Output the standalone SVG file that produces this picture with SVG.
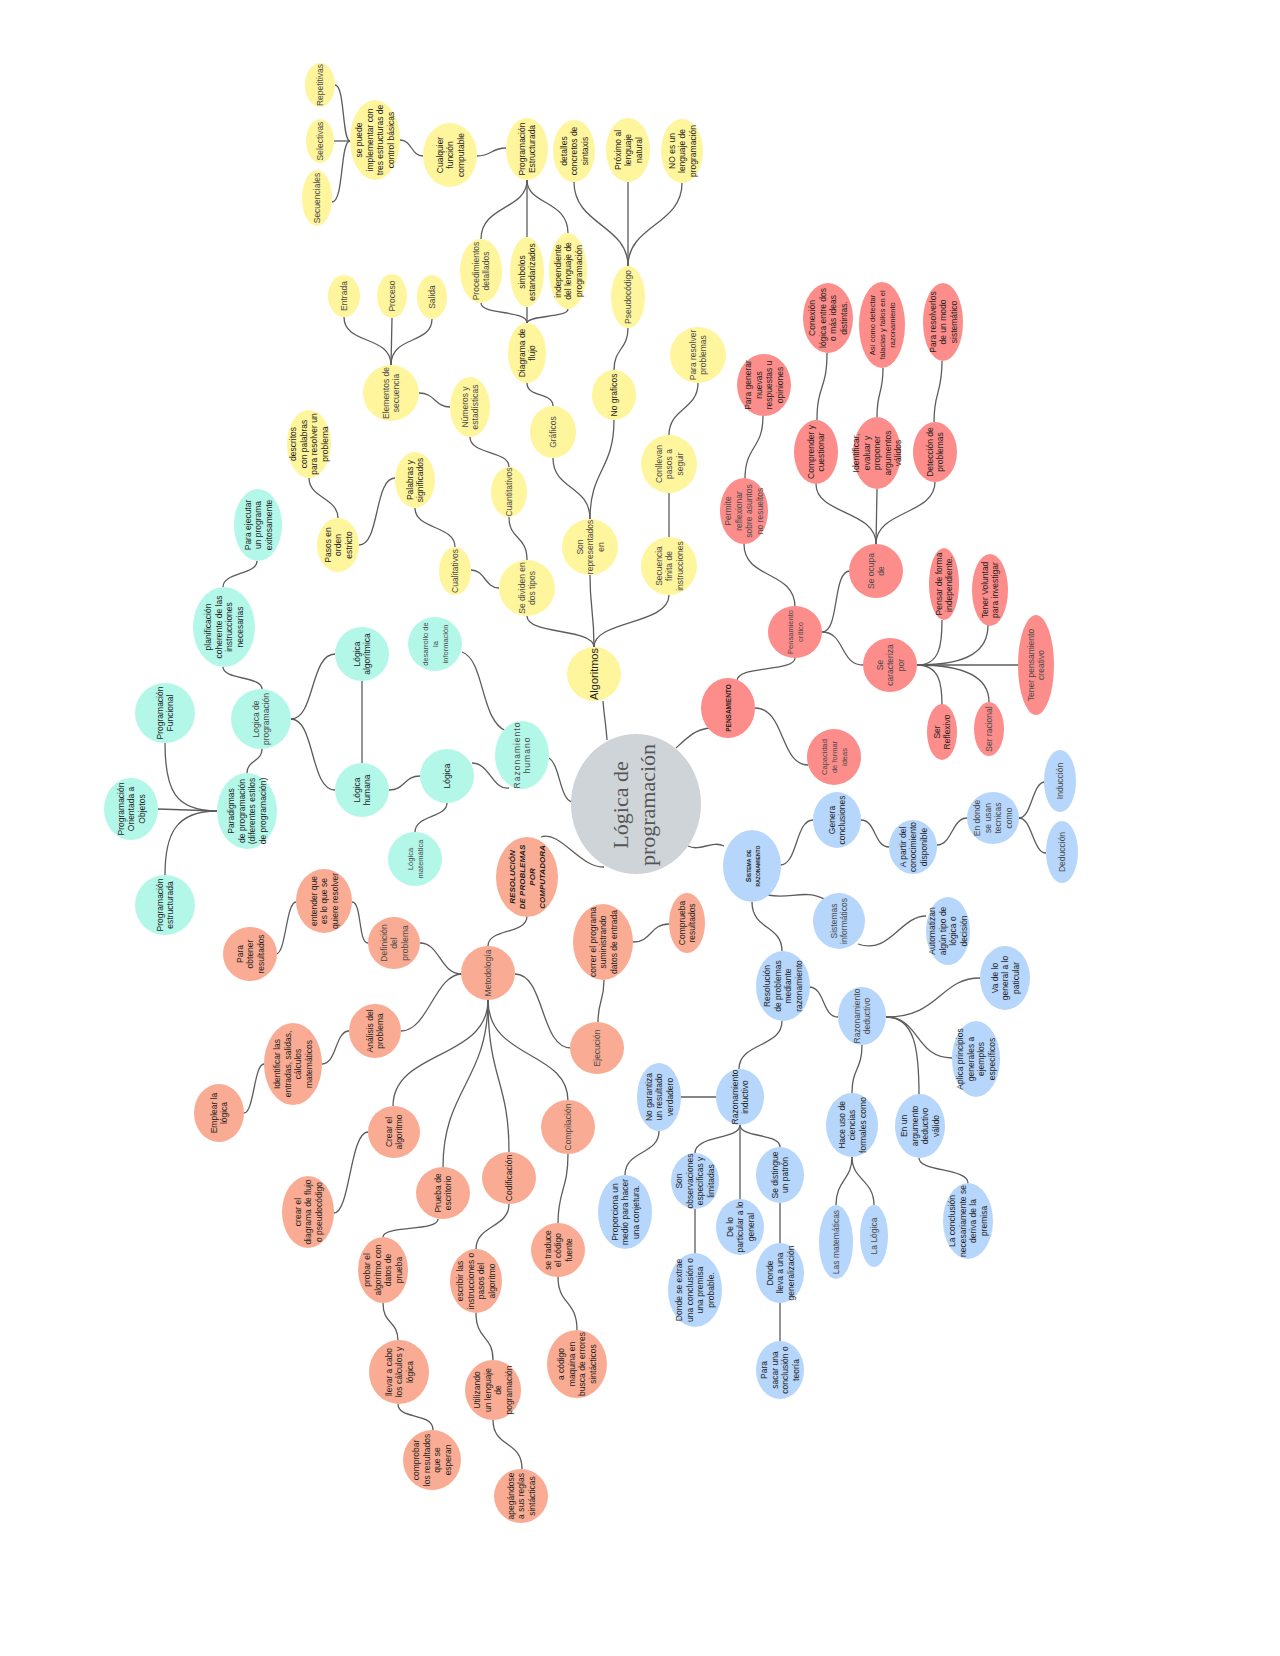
<svg xmlns="http://www.w3.org/2000/svg" width="1280" height="1656" viewBox="0 0 1280 1656">
<style>
.y{fill:#fff59d}.t{fill:#b3f7e9}.r{fill:#fc8d8a}.s{fill:#f9ac93}.b{fill:#b7d6fb}.m{fill:#cfd4d9}
text{font-family:"Liberation Sans",Arial,sans-serif;font-size:8.5px;fill:#1e1e1e;text-anchor:middle}
text.g{fill:#4a4a4a}
text.sm{font-size:7.5px}
#connectors path{fill:none;stroke:#5c5c5c;stroke-width:1.3}
</style>
<rect width="1280" height="1656" fill="#ffffff"/>
<g id="connectors">
<path d="M335,85 C345,85 342,141 350,141"/>
<path d="M334,141 L350,141"/>
<path d="M332,202 C344,202 340,141 350,141"/>
<path d="M400,140 C412,140 411,156 423,156"/>
<path d="M477,156 C492,156 491,148 506,148"/>
<path d="M527,180 C527,210 481,205 481,239"/>
<path d="M527,180 L527,237"/>
<path d="M527,180 C527,205 568,200 568,233"/>
<path d="M574,182 C574,225 628,225 628,266"/>
<path d="M628,182 L628,266"/>
<path d="M682,183 C682,225 628,225 628,266"/>
<path d="M481,303 C481,315 527,310 527,323"/>
<path d="M527,307 L527,323"/>
<path d="M568,309 C568,318 527,315 527,323"/>
<path d="M628,328 C628,350 614,348 614,370"/>
<path d="M527,383 C527,398 553,392 553,406"/>
<path d="M698,383 C698,410 669,408 669,435"/>
<path d="M344,317 C344,345 391,335 391,365"/>
<path d="M392,318 L391,365"/>
<path d="M432,319 C432,345 391,335 391,365"/>
<path d="M419,393 C435,393 435,407 450,407"/>
<path d="M470,437 C470,455 509,450 509,467"/>
<path d="M309,478 C309,498 338,498 338,518"/>
<path d="M359,545 C380,545 374,478 395,478"/>
<path d="M415,508 C415,530 455,525 455,547"/>
<path d="M471,570 C485,570 485,588 499,588"/>
<path d="M509,517 C509,540 527,535 527,560"/>
<path d="M553,458 C553,490 590,485 590,519"/>
<path d="M614,420 C614,470 590,470 590,519"/>
<path d="M669,493 L669,537"/>
<path d="M527,616 C527,635 594,628 594,647"/>
<path d="M590,575 C590,610 594,610 594,647"/>
<path d="M669,595 C669,625 594,620 594,647"/>
<path d="M603,701 C604,715 606,725 607,740"/>
<path d="M462,652 C485,660 480,720 506,731"/>
<path d="M549,758 C560,765 560,800 572,802"/>
<path d="M472,763 C490,763 492,790 509,788"/>
<path d="M389,790 C405,790 404,776 420,776"/>
<path d="M362,681 L362,763"/>
<path d="M291,719 C315,719 310,654 335,654"/>
<path d="M291,719 C315,719 310,790 335,790"/>
<path d="M257,561 C257,575 223,572 223,587"/>
<path d="M223,667 C223,680 262,676 262,689"/>
<path d="M262,749 C262,762 247,760 247,773"/>
<path d="M217,811 C175,811 165,790 165,743"/>
<path d="M217,811 L158,809"/>
<path d="M217,811 C175,811 165,835 165,875"/>
<path d="M447,803 C447,818 415,815 415,832"/>
<path d="M676,748 C690,735 695,730 710,728"/>
<path d="M755,708 C785,708 780,765 808,765"/>
<path d="M737,681 C737,665 795,672 795,658"/>
<path d="M744,544 C744,580 795,570 795,607"/>
<path d="M763,416 C763,450 745,445 745,479"/>
<path d="M822,632 C840,632 832,571 850,571"/>
<path d="M822,632 C845,632 840,665 863,665"/>
<path d="M816,484 C816,515 876,510 876,544"/>
<path d="M877,489 L876,544"/>
<path d="M935,482 C935,515 876,510 876,544"/>
<path d="M827,353 C827,390 817,385 817,420"/>
<path d="M883,368 C883,395 877,390 877,417"/>
<path d="M942,361 C942,395 934,390 934,422"/>
<path d="M917,665 C940,665 942,645 942,620"/>
<path d="M917,665 C970,665 988,650 988,625"/>
<path d="M917,665 L1019,665"/>
<path d="M917,665 C940,665 942,685 942,705"/>
<path d="M917,665 C970,665 989,680 989,702"/>
<path d="M688,846 C700,852 712,840 724,846"/>
<path d="M780,865 C798,865 795,820 813,820"/>
<path d="M861,820 C876,820 874,847 889,847"/>
<path d="M937,845 C952,845 952,818 967,818"/>
<path d="M1019,818 C1032,818 1032,782 1045,782"/>
<path d="M1019,818 C1032,818 1033,853 1046,853"/>
<path d="M768,895 C790,900 805,888 826,900"/>
<path d="M858,944 C890,955 900,916 926,916"/>
<path d="M752,902 C752,930 782,925 782,951"/>
<path d="M809,987 C825,987 822,1017 838,1017"/>
<path d="M782,1021 C782,1048 739,1042 739,1069"/>
<path d="M886,1017 C940,1017 940,978 980,978"/>
<path d="M886,1017 C920,1017 915,1058 952,1058"/>
<path d="M886,1017 C915,1017 919,1050 919,1095"/>
<path d="M862,1045 C862,1070 852,1068 852,1093"/>
<path d="M716,1097 L681,1097"/>
<path d="M740,1125 C740,1140 695,1135 695,1153"/>
<path d="M740,1125 L740,1199"/>
<path d="M740,1125 C740,1138 780,1133 780,1147"/>
<path d="M659,1131 C659,1155 625,1150 625,1175"/>
<path d="M695,1209 L695,1253"/>
<path d="M780,1203 L780,1243"/>
<path d="M780,1303 L780,1341"/>
<path d="M852,1157 C852,1180 836,1180 836,1205"/>
<path d="M852,1157 C852,1180 874,1180 874,1205"/>
<path d="M919,1158 C919,1172 968,1168 968,1183"/>
<path d="M541,837 C560,830 580,868 604,867"/>
<path d="M527,916 C527,935 488,928 488,946"/>
<path d="M462,974 C440,974 440,943 420,943"/>
<path d="M462,974 C435,974 428,1031 401,1031"/>
<path d="M352,902 C362,902 358,943 368,943"/>
<path d="M296,902 C286,902 286,954 276,954"/>
<path d="M349,1031 C335,1031 337,1064 322,1064"/>
<path d="M264,1064 C254,1064 254,1113 244,1113"/>
<path d="M515,974 C545,974 540,1048 571,1048"/>
<path d="M598,1022 C598,1000 604,1002 604,980"/>
<path d="M633,942 C652,942 650,924 669,924"/>
<path d="M488,1000 C488,1060 393,1050 393,1106"/>
<path d="M488,1000 C488,1080 443,1090 443,1167"/>
<path d="M488,1000 C488,1080 509,1080 509,1152"/>
<path d="M488,1000 C488,1060 568,1050 568,1101"/>
<path d="M368,1132 C350,1132 350,1213 334,1213"/>
<path d="M438,1219 C438,1232 383,1225 383,1237"/>
<path d="M383,1303 C383,1325 398,1320 398,1341"/>
<path d="M398,1404 C398,1420 433,1412 433,1430"/>
<path d="M509,1204 C509,1228 476,1225 476,1249"/>
<path d="M476,1313 C476,1340 493,1335 493,1360"/>
<path d="M493,1420 C493,1448 522,1440 522,1469"/>
<path d="M568,1154 C568,1190 558,1190 558,1223"/>
<path d="M558,1277 C558,1305 577,1300 577,1330"/>
</g>

<g id="n-central"><ellipse class="m" cx="636" cy="804" rx="65" ry="70"/><text transform="translate(633,805) rotate(-90)" style="font-family:'Liberation Serif','Times New Roman',serif;font-size:22px;fill:#555"><tspan x="0" y="-5">Lógica de</tspan><tspan x="0" y="22">programación</tspan></text></g>

<!-- yellow -->
<g id="n-repetitivas"><ellipse class="y" cx="320" cy="85" rx="15" ry="22"/><text class="g" transform="translate(320,85) rotate(-90)"><tspan x="0" y="3">Repetitivas</tspan></text></g>
<g id="n-selectivas"><ellipse class="y" cx="320" cy="141" rx="14" ry="22"/><text class="g" transform="translate(320,141) rotate(-90)"><tspan x="0" y="3">Selectivas</tspan></text></g>
<g id="n-secuenciales"><ellipse class="y" cx="317" cy="198" rx="15" ry="28"/><text class="g" transform="translate(317,198) rotate(-90)"><tspan x="0" y="3">Secuenciales</tspan></text></g>
<g id="n-sepuede"><ellipse class="y" cx="375" cy="140" rx="25" ry="40"/><text transform="translate(375,140) rotate(-90)"><tspan x="0" y="-12.75">se puede</tspan><tspan x="0" y="-2.25">implementar con</tspan><tspan x="0" y="8.25">tres estructuras de</tspan><tspan x="0" y="18.75">control básicas</tspan></text></g>
<g id="n-cualquier"><ellipse class="y" cx="450" cy="155" rx="27" ry="32"/><text transform="translate(450,155) rotate(-90)"><tspan x="0" y="-7.5">Cualquier</tspan><tspan x="0" y="3">función</tspan><tspan x="0" y="13.5">computable</tspan></text></g>
<g id="n-progest"><ellipse class="y" cx="527" cy="149" rx="21" ry="31"/><text transform="translate(527,149) rotate(-90)"><tspan x="0" y="-2.25">Programación</tspan><tspan x="0" y="8.25">Estructurada</tspan></text></g>
<g id="n-detalles"><ellipse class="y" cx="574" cy="151" rx="21" ry="31"/><text transform="translate(574,151) rotate(-90)"><tspan x="0" y="-7.5">detalles</tspan><tspan x="0" y="3">concretos de</tspan><tspan x="0" y="13.5">sintaxis</tspan></text></g>
<g id="n-proximo"><ellipse class="y" cx="628" cy="150" rx="22" ry="32"/><text transform="translate(628,150) rotate(-90)"><tspan x="0" y="-7.5">Próximo al</tspan><tspan x="0" y="3">lenguaje</tspan><tspan x="0" y="13.5">natural</tspan></text></g>
<g id="n-noes"><ellipse class="y" cx="682" cy="151" rx="21" ry="32"/><text transform="translate(682,151) rotate(-90)"><tspan x="0" y="-7.5">NO es un</tspan><tspan x="0" y="3">lenguaje de</tspan><tspan x="0" y="13.5">programación</tspan></text></g>
<g id="n-procedimientos"><ellipse class="y" cx="481" cy="271" rx="21" ry="32"/><text class="g" transform="translate(481,271) rotate(-90)"><tspan x="0" y="-2.25">Procedimientos</tspan><tspan x="0" y="8.25">detallados</tspan></text></g>
<g id="n-simbolos"><ellipse class="y" cx="527" cy="272" rx="17" ry="35"/><text transform="translate(527,272) rotate(-90)"><tspan x="0" y="-2.25">simbolos</tspan><tspan x="0" y="8.25">estandarizados</tspan></text></g>
<g id="n-independiente"><ellipse class="y" cx="568" cy="271" rx="19" ry="38"/><text transform="translate(568,271) rotate(-90)"><tspan x="0" y="-7.5">independiente</tspan><tspan x="0" y="3">del lenguaje de</tspan><tspan x="0" y="13.5">programación</tspan></text></g>
<g id="n-pseudo"><ellipse class="y" cx="628" cy="297" rx="17" ry="31"/><text class="g" transform="translate(628,297) rotate(-90)"><tspan x="0" y="3">Pseudocódigo</tspan></text></g>
<g id="n-diagrama"><ellipse class="y" cx="527" cy="353" rx="19" ry="30"/><text transform="translate(527,353) rotate(-90)"><tspan x="0" y="-2.25">Diagrama de</tspan><tspan x="0" y="8.25">flujo</tspan></text></g>
<g id="n-pararesolver"><ellipse class="y" cx="698" cy="355" rx="28" ry="28"/><text class="g" transform="translate(698,355) rotate(-90)"><tspan x="0" y="-2.25">Para resolver</tspan><tspan x="0" y="8.25">problemas</tspan></text></g>
<g id="n-nograficos"><ellipse class="y" cx="614" cy="395" rx="22" ry="25"/><text transform="translate(614,395) rotate(-90)"><tspan x="0" y="3">No graficos</tspan></text></g>
<g id="n-graficos"><ellipse class="y" cx="553" cy="432" rx="23" ry="26"/><text class="g" transform="translate(553,432) rotate(-90)"><tspan x="0" y="3">Gráficos</tspan></text></g>
<g id="n-numeros"><ellipse class="y" cx="470" cy="407" rx="20" ry="30"/><text class="g" transform="translate(470,407) rotate(-90)"><tspan x="0" y="-2.25">Números y</tspan><tspan x="0" y="8.25">estadísticas</tspan></text></g>
<g id="n-entrada"><ellipse class="y" cx="344" cy="296" rx="16" ry="21"/><text class="g" transform="translate(344,296) rotate(-90)"><tspan x="0" y="3">Entrada</tspan></text></g>
<g id="n-proceso"><ellipse class="y" cx="392" cy="296" rx="15" ry="22"/><text class="g" transform="translate(392,296) rotate(-90)"><tspan x="0" y="3">Proceso</tspan></text></g>
<g id="n-salida"><ellipse class="y" cx="432" cy="297" rx="15" ry="22"/><text class="g" transform="translate(432,297) rotate(-90)"><tspan x="0" y="3">Salida</tspan></text></g>
<g id="n-elementos"><ellipse class="y" cx="391" cy="393" rx="28" ry="28"/><text class="g" transform="translate(391,393) rotate(-90)"><tspan x="0" y="-2.25">Elementos de</tspan><tspan x="0" y="8.25">secuencia</tspan></text></g>
<g id="n-descritos"><ellipse class="y" cx="309" cy="444" rx="22" ry="34"/><text transform="translate(309,444) rotate(-90)"><tspan x="0" y="-12.75">descritos</tspan><tspan x="0" y="-2.25">con palabras</tspan><tspan x="0" y="8.25">para resolver un</tspan><tspan x="0" y="18.75">problema</tspan></text></g>
<g id="n-palabras"><ellipse class="y" cx="415" cy="480" rx="20" ry="28"/><text transform="translate(415,480) rotate(-90)"><tspan x="0" y="-2.25">Palabras y</tspan><tspan x="0" y="8.25">significados</tspan></text></g>
<g id="n-pasos"><ellipse class="y" cx="338" cy="545" rx="21" ry="27"/><text transform="translate(338,545) rotate(-90)"><tspan x="0" y="-7.5">Pasos en</tspan><tspan x="0" y="3">orden</tspan><tspan x="0" y="13.5">estricto</tspan></text></g>
<g id="n-cuantitativos"><ellipse class="y" cx="509" cy="492" rx="18" ry="25"/><text class="g" transform="translate(509,492) rotate(-90)"><tspan x="0" y="3">Cuantitativos</tspan></text></g>
<g id="n-cualitativos"><ellipse class="y" cx="455" cy="571" rx="16" ry="24"/><text class="g" transform="translate(455,571) rotate(-90)"><tspan x="0" y="3">Cualitativos</tspan></text></g>
<g id="n-sedividen"><ellipse class="y" cx="527" cy="588" rx="28" ry="28"/><text class="g" transform="translate(527,588) rotate(-90)"><tspan x="0" y="-2.25">Se dividen en</tspan><tspan x="0" y="8.25">dos tipos</tspan></text></g>
<g id="n-sonrep"><ellipse class="y" cx="590" cy="547" rx="28" ry="28"/><text class="g" transform="translate(590,547) rotate(-90)"><tspan x="0" y="-7.5">Son</tspan><tspan x="0" y="3">representados</tspan><tspan x="0" y="13.5">en</tspan></text></g>
<g id="n-conllevan"><ellipse class="y" cx="669" cy="464" rx="28" ry="29"/><text class="g" transform="translate(669,464) rotate(-90)"><tspan x="0" y="-7.5">Conllevan</tspan><tspan x="0" y="3">pasos a</tspan><tspan x="0" y="13.5">seguir</tspan></text></g>
<g id="n-secuencia"><ellipse class="y" cx="669" cy="566" rx="28" ry="29"/><text class="g" transform="translate(669,566) rotate(-90)"><tspan x="0" y="-7.5">Secuencia</tspan><tspan x="0" y="3">finita de</tspan><tspan x="0" y="13.5">instrucciones</tspan></text></g>
<g id="n-algoritmos"><ellipse class="y" cx="594" cy="674" rx="27" ry="27"/><text transform="translate(594,674) rotate(-90)" style="font-size:11px"><tspan x="0" y="4">Algoritmos</tspan></text></g>

<!-- teal -->
<g id="n-desarrollo"><ellipse class="t" cx="435" cy="644" rx="27" ry="27"/><text class="g sm" transform="translate(435,644) rotate(-90)"><tspan x="0" y="-7">desarrollo de</tspan><tspan x="0" y="3">la</tspan><tspan x="0" y="13">información</tspan></text></g>
<g id="n-paraejecutar"><ellipse class="t" cx="258" cy="525" rx="24" ry="36"/><text transform="translate(258,525) rotate(-90)"><tspan x="0" y="-7.5">Para ejecutar</tspan><tspan x="0" y="3">un programa</tspan><tspan x="0" y="13.5">exitosamente</tspan></text></g>
<g id="n-planificacion"><ellipse class="t" cx="224" cy="627" rx="31" ry="40"/><text transform="translate(224,627) rotate(-90)"><tspan x="0" y="-12.75">planificación</tspan><tspan x="0" y="-2.25">coherente de las</tspan><tspan x="0" y="8.25">instrucciones</tspan><tspan x="0" y="18.75">necesarias</tspan></text></g>
<g id="n-logicaprog"><ellipse class="t" cx="261" cy="719" rx="30" ry="30"/><text class="g" transform="translate(261,719) rotate(-90)"><tspan x="0" y="-2.25">Logica de</tspan><tspan x="0" y="8.25">programación</tspan></text></g>
<g id="n-progfuncional"><ellipse class="t" cx="165" cy="713" rx="30" ry="30"/><text transform="translate(165,713) rotate(-90)"><tspan x="0" y="-2.25">Programación</tspan><tspan x="0" y="8.25">Funcional</tspan></text></g>
<g id="n-logicaalg"><ellipse class="t" cx="362" cy="654" rx="27" ry="27"/><text transform="translate(362,654) rotate(-90)"><tspan x="0" y="-2.25">Lógica</tspan><tspan x="0" y="8.25">algorítmica</tspan></text></g>
<g id="n-logicahumana"><ellipse class="t" cx="362" cy="790" rx="27" ry="27"/><text transform="translate(362,790) rotate(-90)"><tspan x="0" y="-2.25">Lógica</tspan><tspan x="0" y="8.25">humana</tspan></text></g>
<g id="n-logica"><ellipse class="t" cx="447" cy="776" rx="27" ry="27"/><text transform="translate(447,776) rotate(-90)"><tspan x="0" y="3">Lógica</tspan></text></g>
<g id="n-razhumano"><ellipse class="t" cx="522" cy="755" rx="27" ry="34"/><text class="g" transform="translate(522,755) rotate(-90)" style="letter-spacing:1px"><tspan x="0" y="-2.25">Razonamiento</tspan><tspan x="0" y="8.25">humano</tspan></text></g>
<g id="n-paradigmas"><ellipse class="t" cx="247" cy="811" rx="30" ry="38"/><text transform="translate(247,811) rotate(-90)"><tspan x="0" y="-12.75">Paradigmas</tspan><tspan x="0" y="-2.25">de programación</tspan><tspan x="0" y="8.25">(diferentes estilos</tspan><tspan x="0" y="18.75">de programación)</tspan></text></g>
<g id="n-poo"><ellipse class="t" cx="131" cy="809" rx="27" ry="31"/><text transform="translate(131,809) rotate(-90)"><tspan x="0" y="-7.5">Programación</tspan><tspan x="0" y="3">Orientada a</tspan><tspan x="0" y="13.5">Objetos</tspan></text></g>
<g id="n-progestructurada"><ellipse class="t" cx="165" cy="905" rx="30" ry="30"/><text transform="translate(165,905) rotate(-90)"><tspan x="0" y="-2.25">Programación</tspan><tspan x="0" y="8.25">estructurada</tspan></text></g>
<g id="n-logicamat"><ellipse class="t" cx="415" cy="859" rx="27" ry="27"/><text class="g sm" transform="translate(415,859) rotate(-90)"><tspan x="0" y="-2">Lógica</tspan><tspan x="0" y="8">matemática</tspan></text></g>

<!-- red -->
<g id="n-pensamiento"><ellipse class="r" cx="728" cy="708" rx="27" ry="30"/><text transform="translate(728,708) rotate(-90)" style="font-size:6.5px;font-weight:bold"><tspan x="0" y="2.5">PENSAMIENTO</tspan></text></g>
<g id="n-capacidad"><ellipse class="r" cx="834" cy="757" rx="27" ry="28"/><text class="g sm" transform="translate(834,757) rotate(-90)"><tspan x="0" y="-7">Capacidad</tspan><tspan x="0" y="3">de formar</tspan><tspan x="0" y="13">ideas</tspan></text></g>
<g id="n-pcritico"><ellipse class="r" cx="795" cy="632" rx="27" ry="26"/><text class="g sm" transform="translate(795,632) rotate(-90)"><tspan x="0" y="-2">Pensamiento</tspan><tspan x="0" y="8">crítico</tspan></text></g>
<g id="n-seocupa"><ellipse class="r" cx="876" cy="571" rx="27" ry="27"/><text class="g" transform="translate(876,571) rotate(-90)"><tspan x="0" y="-2.25">Se ocupa</tspan><tspan x="0" y="8.25">de</tspan></text></g>
<g id="n-secaract"><ellipse class="r" cx="890" cy="665" rx="27" ry="27"/><text class="g" transform="translate(890,665) rotate(-90)"><tspan x="0" y="-7.5">Se</tspan><tspan x="0" y="3">caracteriza</tspan><tspan x="0" y="13.5">por</tspan></text></g>
<g id="n-permite"><ellipse class="r" cx="744" cy="511" rx="24" ry="33"/><text class="g" transform="translate(744,511) rotate(-90)"><tspan x="0" y="-12.75">Permite</tspan><tspan x="0" y="-2.25">reflexionar</tspan><tspan x="0" y="8.25">sobre asuntos</tspan><tspan x="0" y="18.75">no resueltos</tspan></text></g>
<g id="n-paragenerar"><ellipse class="r" cx="764" cy="385" rx="27" ry="31"/><text transform="translate(764,385) rotate(-90)"><tspan x="0" y="-12.75">Para generar</tspan><tspan x="0" y="-2.25">nuevas</tspan><tspan x="0" y="8.25">respuestas u</tspan><tspan x="0" y="18.75">opiniones</tspan></text></g>
<g id="n-comprender"><ellipse class="r" cx="816" cy="452" rx="22" ry="32"/><text transform="translate(816,452) rotate(-90)"><tspan x="0" y="-2.25">Comprender y</tspan><tspan x="0" y="8.25">cuestionar</tspan></text></g>
<g id="n-identificar"><ellipse class="r" cx="877" cy="453" rx="24" ry="36"/><text transform="translate(877,453) rotate(-90)"><tspan x="0" y="-18">Identificar,</tspan><tspan x="0" y="-7.5">evaluar y</tspan><tspan x="0" y="3">proponer</tspan><tspan x="0" y="13.5">argumentos</tspan><tspan x="0" y="24">válidos</tspan></text></g>
<g id="n-deteccion"><ellipse class="r" cx="935" cy="452" rx="22" ry="30"/><text transform="translate(935,452) rotate(-90)"><tspan x="0" y="-2.25">Detección de</tspan><tspan x="0" y="8.25">problemas</tspan></text></g>
<g id="n-conexion"><ellipse class="r" cx="828" cy="318" rx="25" ry="35"/><text transform="translate(828,318) rotate(-90)"><tspan x="0" y="-12.75">Conexión</tspan><tspan x="0" y="-2.25">lógica entre dos</tspan><tspan x="0" y="8.25">o más ideas</tspan><tspan x="0" y="18.75">distintas.</tspan></text></g>
<g id="n-asicomo"><ellipse class="r" cx="882" cy="325" rx="23" ry="43"/><text class="sm" transform="translate(882,325) rotate(-90)"><tspan x="0" y="-7">Así como detectar</tspan><tspan x="0" y="3">falacias y fallos en el</tspan><tspan x="0" y="13">razonamiento</tspan></text></g>
<g id="n-pararesolverlos"><ellipse class="r" cx="943" cy="322" rx="20" ry="39"/><text transform="translate(943,322) rotate(-90)"><tspan x="0" y="-7.5">Para resolverlos</tspan><tspan x="0" y="3">de un modo</tspan><tspan x="0" y="13.5">sistemático</tspan></text></g>
<g id="n-pensar"><ellipse class="r" cx="944" cy="584" rx="15" ry="36"/><text transform="translate(944,584) rotate(-90)"><tspan x="0" y="-2.25">Pensar de forma</tspan><tspan x="0" y="8.25">independiente.</tspan></text></g>
<g id="n-voluntad"><ellipse class="r" cx="990" cy="590" rx="18" ry="36"/><text transform="translate(990,590) rotate(-90)"><tspan x="0" y="-2.25">Tener Voluntad</tspan><tspan x="0" y="8.25">para investigar</tspan></text></g>
<g id="n-creativo"><ellipse class="r" cx="1036" cy="665" rx="18" ry="50"/><text class="g" transform="translate(1036,665) rotate(-90)"><tspan x="0" y="-2.25">Tener pensamiento</tspan><tspan x="0" y="8.25">creativo</tspan></text></g>
<g id="n-reflexivo"><ellipse class="r" cx="942" cy="732" rx="15" ry="28"/><text transform="translate(942,732) rotate(-90)"><tspan x="0" y="-2.25">Ser</tspan><tspan x="0" y="8.25">Reflexivo</tspan></text></g>
<g id="n-racional"><ellipse class="r" cx="989" cy="729" rx="15" ry="27"/><text class="g" transform="translate(989,729) rotate(-90)"><tspan x="0" y="3">Ser racional</tspan></text></g>

<!-- blue -->
<g id="n-sistema"><ellipse class="b" cx="752" cy="866" rx="29" ry="36"/><text transform="translate(752,866) rotate(-90)" style="font-size:7px;font-weight:bold;font-variant:small-caps"><tspan x="0" y="-1.5">Sistema de</tspan><tspan x="0" y="7.5">razonamiento</tspan></text></g>
<g id="n-genera"><ellipse class="b" cx="837" cy="820" rx="24" ry="28"/><text transform="translate(837,820) rotate(-90)"><tspan x="0" y="-2.25">Genera</tspan><tspan x="0" y="8.25">conclusiones</tspan></text></g>
<g id="n-apartir"><ellipse class="b" cx="913" cy="847" rx="24" ry="27"/><text transform="translate(913,847) rotate(-90)"><tspan x="0" y="-7.5">A partir del</tspan><tspan x="0" y="3">conocimiento</tspan><tspan x="0" y="13.5">disponible</tspan></text></g>
<g id="n-endonde"><ellipse class="b" cx="993" cy="818" rx="26" ry="26"/><text class="g" transform="translate(993,818) rotate(-90)"><tspan x="0" y="-12.75">En donde</tspan><tspan x="0" y="-2.25">se usan</tspan><tspan x="0" y="8.25">tecnicas</tspan><tspan x="0" y="18.75">como</tspan></text></g>
<g id="n-induccion"><ellipse class="b" cx="1060" cy="781" rx="16" ry="31"/><text class="g" transform="translate(1060,781) rotate(-90)"><tspan x="0" y="3">Inducción</tspan></text></g>
<g id="n-deduccion"><ellipse class="b" cx="1062" cy="852" rx="16" ry="31"/><text class="g" transform="translate(1062,852) rotate(-90)"><tspan x="0" y="3">Deducción</tspan></text></g>
<g id="n-sistinf"><ellipse class="b" cx="839" cy="921" rx="26" ry="28"/><text class="g" transform="translate(839,921) rotate(-90)"><tspan x="0" y="-2.25">Sistemas</tspan><tspan x="0" y="8.25">informáticos</tspan></text></g>
<g id="n-automatizan"><ellipse class="b" cx="948" cy="931" rx="22" ry="34"/><text transform="translate(948,931) rotate(-90)"><tspan x="0" y="-12.75">Automatizan</tspan><tspan x="0" y="-2.25">algún tipo de</tspan><tspan x="0" y="8.25">lógica o</tspan><tspan x="0" y="18.75">decisión</tspan></text></g>
<g id="n-resolucion"><ellipse class="b" cx="783" cy="986" rx="27" ry="35"/><text transform="translate(783,986) rotate(-90)"><tspan x="0" y="-12.75">Resolución</tspan><tspan x="0" y="-2.25">de problemas</tspan><tspan x="0" y="8.25">mediante</tspan><tspan x="0" y="18.75">razonamiento</tspan></text></g>
<g id="n-razded"><ellipse class="b" cx="862" cy="1016" rx="24" ry="29"/><text class="g" transform="translate(862,1016) rotate(-90)"><tspan x="0" y="-2.25">Razonamiento</tspan><tspan x="0" y="8.25">deductivo</tspan></text></g>
<g id="n-vadelo"><ellipse class="b" cx="1005" cy="978" rx="25" ry="32"/><text transform="translate(1005,978) rotate(-90)"><tspan x="0" y="-7.5">Va de lo</tspan><tspan x="0" y="3">general a lo</tspan><tspan x="0" y="13.5">paticular</tspan></text></g>
<g id="n-aplica"><ellipse class="b" cx="976" cy="1059" rx="24" ry="38"/><text transform="translate(976,1059) rotate(-90)"><tspan x="0" y="-12.75">Aplica principios</tspan><tspan x="0" y="-2.25">generales a</tspan><tspan x="0" y="8.25">ejemplos</tspan><tspan x="0" y="18.75">específicos</tspan></text></g>
<g id="n-razind"><ellipse class="b" cx="740" cy="1097" rx="24" ry="28"/><text transform="translate(740,1097) rotate(-90)"><tspan x="0" y="-2.25">Razonamiento</tspan><tspan x="0" y="8.25">inductivo</tspan></text></g>
<g id="n-nogarantiza"><ellipse class="b" cx="659" cy="1097" rx="22" ry="34"/><text transform="translate(659,1097) rotate(-90)"><tspan x="0" y="-7.5">No garantiza</tspan><tspan x="0" y="3">un resultado</tspan><tspan x="0" y="13.5">verdadero</tspan></text></g>
<g id="n-haceuso"><ellipse class="b" cx="852" cy="1125" rx="26" ry="32"/><text transform="translate(852,1125) rotate(-90)"><tspan x="0" y="-7.5">Hace uso de</tspan><tspan x="0" y="3">ciencias</tspan><tspan x="0" y="13.5">formales como</tspan></text></g>
<g id="n-enunarg"><ellipse class="b" cx="920" cy="1126" rx="25" ry="32"/><text transform="translate(920,1126) rotate(-90)"><tspan x="0" y="-12.75">En un</tspan><tspan x="0" y="-2.25">argumento</tspan><tspan x="0" y="8.25">deductivo</tspan><tspan x="0" y="18.75">válido</tspan></text></g>
<g id="n-sonobs"><ellipse class="b" cx="695" cy="1181" rx="24" ry="28"/><text transform="translate(695,1181) rotate(-90)"><tspan x="0" y="-12.75">Son</tspan><tspan x="0" y="-2.25">observaciones</tspan><tspan x="0" y="8.25">especificas y</tspan><tspan x="0" y="18.75">limitadas</tspan></text></g>
<g id="n-sedistingue"><ellipse class="b" cx="780" cy="1175" rx="24" ry="28"/><text transform="translate(780,1175) rotate(-90)"><tspan x="0" y="-2.25">Se distingue</tspan><tspan x="0" y="8.25">un patrón</tspan></text></g>
<g id="n-proporciona"><ellipse class="b" cx="625" cy="1212" rx="27" ry="37"/><text transform="translate(625,1212) rotate(-90)"><tspan x="0" y="-7.5">Proporciona un</tspan><tspan x="0" y="3">medio para hacer</tspan><tspan x="0" y="13.5">una conjetura.</tspan></text></g>
<g id="n-delopart"><ellipse class="b" cx="740" cy="1227" rx="24" ry="28"/><text transform="translate(740,1227) rotate(-90)"><tspan x="0" y="-7.5">De lo</tspan><tspan x="0" y="3">particular a lo</tspan><tspan x="0" y="13.5">general</tspan></text></g>
<g id="n-dondeextrae"><ellipse class="b" cx="695" cy="1290" rx="27" ry="37"/><text transform="translate(695,1290) rotate(-90)"><tspan x="0" y="-12.75">Donde se extrae</tspan><tspan x="0" y="-2.25">una conclusión o</tspan><tspan x="0" y="8.25">una premisa</tspan><tspan x="0" y="18.75">probable.</tspan></text></g>
<g id="n-dondelleva"><ellipse class="b" cx="780" cy="1273" rx="24" ry="30"/><text transform="translate(780,1273) rotate(-90)"><tspan x="0" y="-7.5">Donde</tspan><tspan x="0" y="3">lleva a una</tspan><tspan x="0" y="13.5">generalización</tspan></text></g>
<g id="n-parasacar"><ellipse class="b" cx="780" cy="1370" rx="24" ry="29"/><text transform="translate(780,1370) rotate(-90)"><tspan x="0" y="-12.75">Para</tspan><tspan x="0" y="-2.25">sacar una</tspan><tspan x="0" y="8.25">conclusión o</tspan><tspan x="0" y="18.75">teoría</tspan></text></g>
<g id="n-matematicas"><ellipse class="b" cx="836" cy="1242" rx="17" ry="37"/><text class="g" transform="translate(836,1242) rotate(-90)"><tspan x="0" y="3">Las matemáticas</tspan></text></g>
<g id="n-lalogica"><ellipse class="b" cx="874" cy="1236" rx="14" ry="31"/><text class="g" transform="translate(874,1236) rotate(-90)"><tspan x="0" y="3">La Lógica</tspan></text></g>
<g id="n-laconclusion"><ellipse class="b" cx="968" cy="1221" rx="25" ry="38"/><text transform="translate(968,1221) rotate(-90)"><tspan x="0" y="-12.75">La conclusión</tspan><tspan x="0" y="-2.25">necesariamente se</tspan><tspan x="0" y="8.25">deriva de la</tspan><tspan x="0" y="18.75">premisa</tspan></text></g>

<!-- salmon -->
<g id="n-resolucionpc"><ellipse class="s" cx="527" cy="877" rx="31" ry="40"/><text transform="translate(527,877) rotate(-90)" style="font-size:8px;font-weight:bold;font-style:italic"><tspan x="0" y="-12">RESOLUCIÓN</tspan><tspan x="0" y="-2">DE PROBLEMAS</tspan><tspan x="0" y="8">POR</tspan><tspan x="0" y="18">COMPUTADORA</tspan></text></g>
<g id="n-metodologia"><ellipse class="s" cx="488" cy="973" rx="27" ry="27"/><text class="g" transform="translate(488,973) rotate(-90)"><tspan x="0" y="3">Metodología</tspan></text></g>
<g id="n-definicion"><ellipse class="s" cx="394" cy="943" rx="26" ry="26"/><text class="g" transform="translate(394,943) rotate(-90)"><tspan x="0" y="-7.5">Definición</tspan><tspan x="0" y="3">del</tspan><tspan x="0" y="13.5">problema</tspan></text></g>
<g id="n-entender"><ellipse class="s" cx="324" cy="901" rx="28" ry="32"/><text transform="translate(324,901) rotate(-90)"><tspan x="0" y="-7.5">entender que</tspan><tspan x="0" y="3">es lo que se</tspan><tspan x="0" y="13.5">quiere resolver</tspan></text></g>
<g id="n-paraobtener"><ellipse class="s" cx="250" cy="954" rx="27" ry="27"/><text transform="translate(250,954) rotate(-90)"><tspan x="0" y="-7.5">Para</tspan><tspan x="0" y="3">obtener</tspan><tspan x="0" y="13.5">resultados</tspan></text></g>
<g id="n-analisis"><ellipse class="s" cx="375" cy="1031" rx="26" ry="27"/><text transform="translate(375,1031) rotate(-90)"><tspan x="0" y="-2.25">Análisis del</tspan><tspan x="0" y="8.25">problema</tspan></text></g>
<g id="n-identificarent"><ellipse class="s" cx="293" cy="1064" rx="29" ry="41"/><text transform="translate(293,1064) rotate(-90)"><tspan x="0" y="-12.75">Identificar las</tspan><tspan x="0" y="-2.25">entradas, salidas,</tspan><tspan x="0" y="8.25">cálculos</tspan><tspan x="0" y="18.75">matemáticos</tspan></text></g>
<g id="n-emplear"><ellipse class="s" cx="219" cy="1113" rx="25" ry="29"/><text transform="translate(219,1113) rotate(-90)"><tspan x="0" y="-2.25">Emplear la</tspan><tspan x="0" y="8.25">lógica</tspan></text></g>
<g id="n-correr"><ellipse class="s" cx="603" cy="942" rx="30" ry="38"/><text transform="translate(603,942) rotate(-90)"><tspan x="0" y="-7.5">correr el programa</tspan><tspan x="0" y="3">suministrando</tspan><tspan x="0" y="13.5">datos de entrada</tspan></text></g>
<g id="n-comprueba"><ellipse class="s" cx="687" cy="923" rx="18" ry="30"/><text transform="translate(687,923) rotate(-90)"><tspan x="0" y="-2.25">Comprueba</tspan><tspan x="0" y="8.25">resultados</tspan></text></g>
<g id="n-ejecucion"><ellipse class="s" cx="597" cy="1048" rx="27" ry="26"/><text class="g" transform="translate(597,1048) rotate(-90)"><tspan x="0" y="3">Ejecución</tspan></text></g>
<g id="n-crear"><ellipse class="s" cx="394" cy="1132" rx="26" ry="26"/><text transform="translate(394,1132) rotate(-90)"><tspan x="0" y="-2.25">Crear el</tspan><tspan x="0" y="8.25">algoritmo</tspan></text></g>
<g id="n-creardiag"><ellipse class="s" cx="308" cy="1212" rx="26" ry="36"/><text transform="translate(308,1212) rotate(-90)"><tspan x="0" y="-7.5">crear el</tspan><tspan x="0" y="3">diagrama de flujo</tspan><tspan x="0" y="13.5">o pseudocódigo</tspan></text></g>
<g id="n-prueba"><ellipse class="s" cx="443" cy="1193" rx="27" ry="26"/><text transform="translate(443,1193) rotate(-90)"><tspan x="0" y="-2.25">Prueba de</tspan><tspan x="0" y="8.25">escritorio</tspan></text></g>
<g id="n-codificacion"><ellipse class="s" cx="509" cy="1178" rx="27" ry="26"/><text transform="translate(509,1178) rotate(-90)"><tspan x="0" y="3">Codificación</tspan></text></g>
<g id="n-compilacion"><ellipse class="s" cx="568" cy="1127" rx="27" ry="27"/><text class="g" transform="translate(568,1127) rotate(-90)"><tspan x="0" y="3">Compilación</tspan></text></g>
<g id="n-probar"><ellipse class="s" cx="383" cy="1270" rx="25" ry="33"/><text transform="translate(383,1270) rotate(-90)"><tspan x="0" y="-12.75">probar el</tspan><tspan x="0" y="-2.25">algoritmo con</tspan><tspan x="0" y="8.25">datos de</tspan><tspan x="0" y="18.75">prueba</tspan></text></g>
<g id="n-escribir"><ellipse class="s" cx="476" cy="1281" rx="26" ry="32"/><text transform="translate(476,1281) rotate(-90)"><tspan x="0" y="-12.75">escribir las</tspan><tspan x="0" y="-2.25">instrucciones o</tspan><tspan x="0" y="8.25">pasos del</tspan><tspan x="0" y="18.75">algoritmo</tspan></text></g>
<g id="n-setraduce"><ellipse class="s" cx="558" cy="1250" rx="27" ry="27"/><text transform="translate(558,1250) rotate(-90)"><tspan x="0" y="-7.5">se traduce</tspan><tspan x="0" y="3">el código</tspan><tspan x="0" y="13.5">fuente</tspan></text></g>
<g id="n-llevar"><ellipse class="s" cx="399" cy="1372" rx="30" ry="32"/><text transform="translate(399,1372) rotate(-90)"><tspan x="0" y="-7.5">llevar a cabo</tspan><tspan x="0" y="3">los cálculos y</tspan><tspan x="0" y="13.5">lógica</tspan></text></g>
<g id="n-utilizando"><ellipse class="s" cx="493" cy="1390" rx="28" ry="30"/><text transform="translate(493,1390) rotate(-90)"><tspan x="0" y="-12.75">Utilizando</tspan><tspan x="0" y="-2.25">un lenguaje</tspan><tspan x="0" y="8.25">de</tspan><tspan x="0" y="18.75">pogramación</tspan></text></g>
<g id="n-acodigo"><ellipse class="s" cx="577" cy="1364" rx="30" ry="34"/><text transform="translate(577,1364) rotate(-90)"><tspan x="0" y="-12.75">a código</tspan><tspan x="0" y="-2.25">maquina en</tspan><tspan x="0" y="8.25">busca de errores</tspan><tspan x="0" y="18.75">sintácticos</tspan></text></g>
<g id="n-comprobar"><ellipse class="s" cx="432" cy="1460" rx="29" ry="30"/><text transform="translate(432,1460) rotate(-90)"><tspan x="0" y="-12.75">comprobar</tspan><tspan x="0" y="-2.25">los resultados</tspan><tspan x="0" y="8.25">que se</tspan><tspan x="0" y="18.75">esperan</tspan></text></g>
<g id="n-apegandose"><ellipse class="s" cx="521" cy="1496" rx="27" ry="27"/><text transform="translate(521,1496) rotate(-90)"><tspan x="0" y="-7.5">apegándose</tspan><tspan x="0" y="3">a sus reglas</tspan><tspan x="0" y="13.5">sintácticas</tspan></text></g>
</svg>
